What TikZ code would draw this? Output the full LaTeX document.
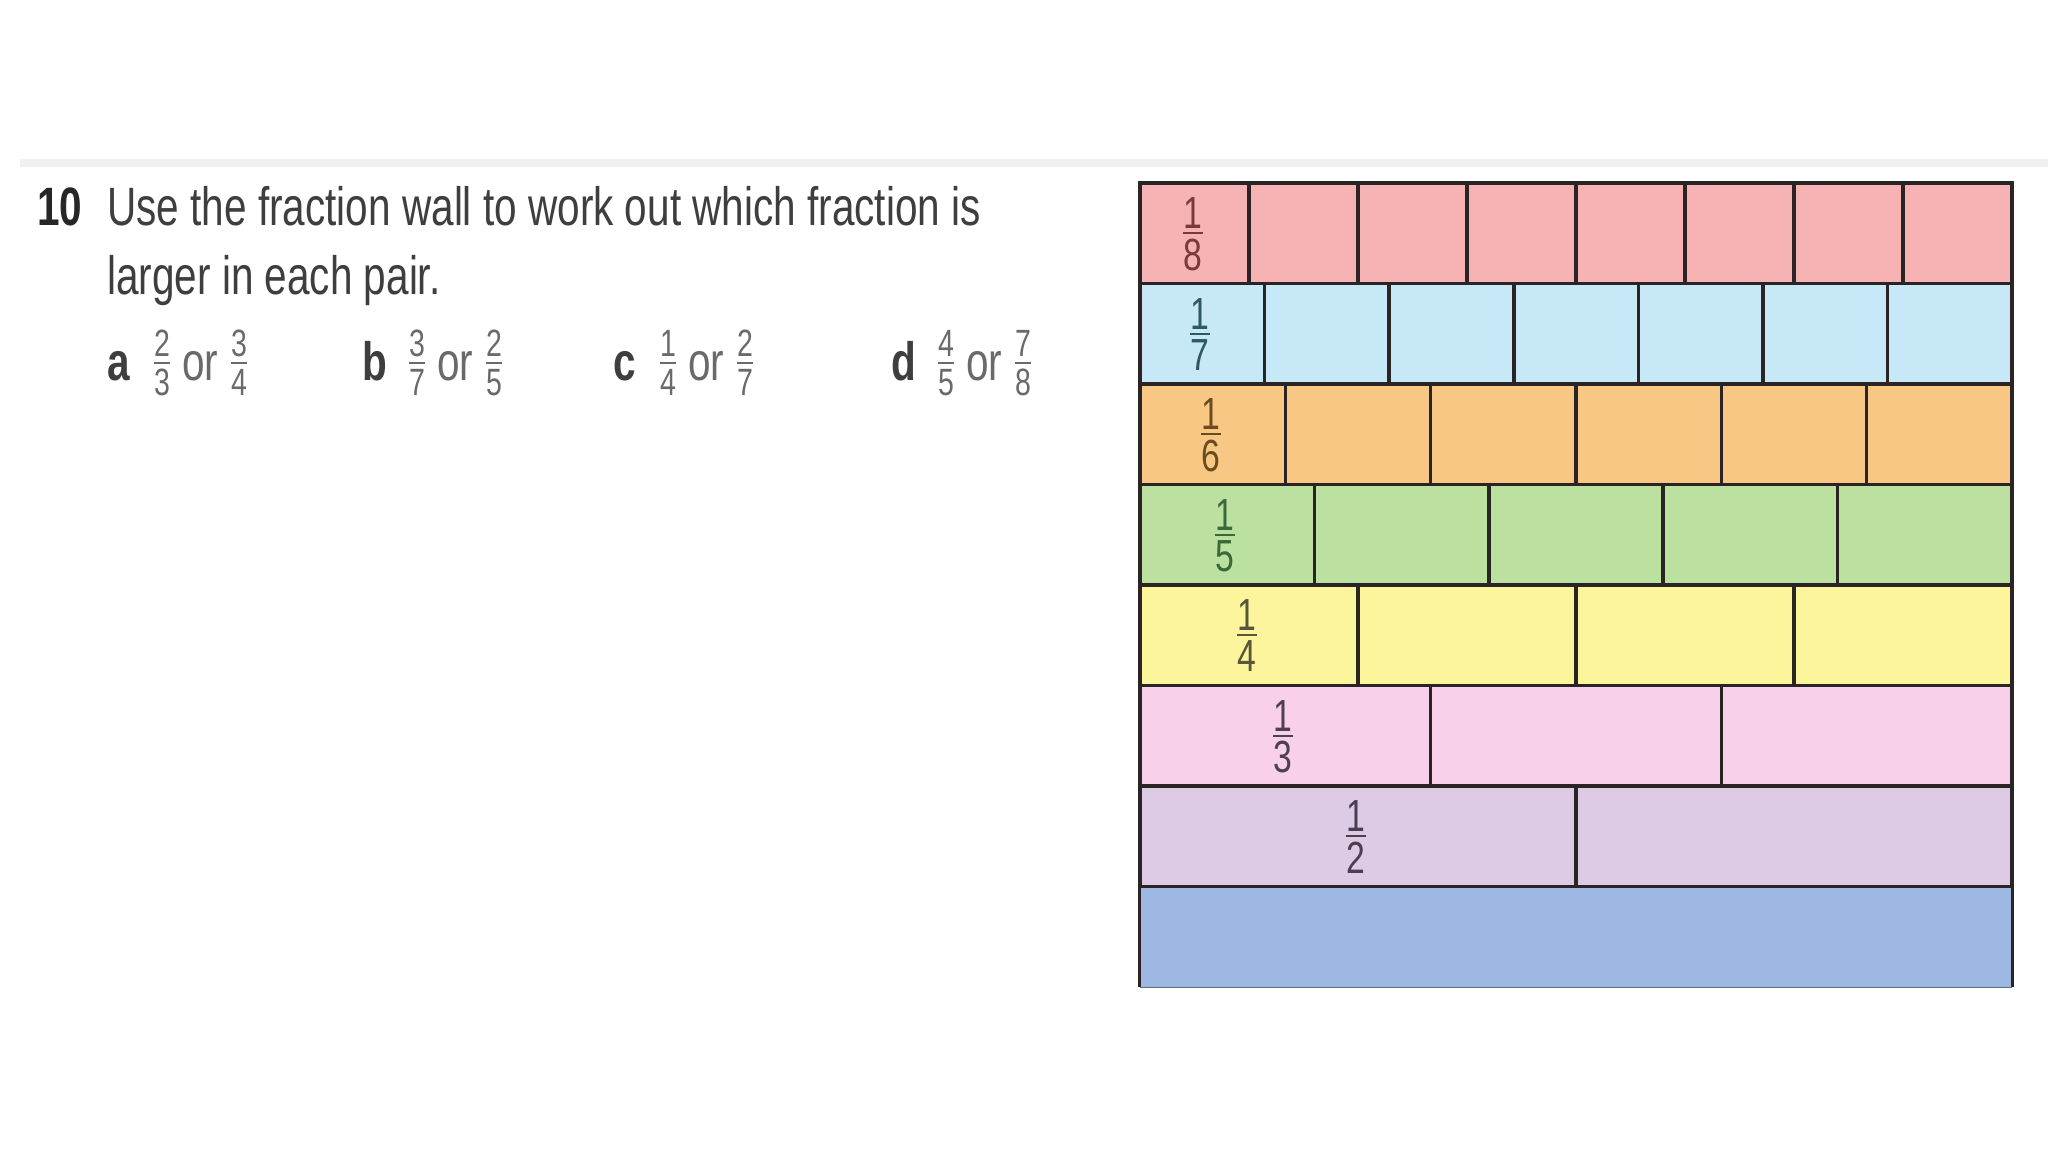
\documentclass[tikz,border=0pt]{standalone}
\usepackage{fontspec}
\setmainfont{Liberation Sans}[FakeStretch=0.75]
\definecolor{c8}{HTML}{F7B3B3}
\definecolor{c7}{HTML}{C6E8F7}
\definecolor{c6}{HTML}{F8C784}
\definecolor{c5}{HTML}{BCE09F}
\definecolor{c4}{HTML}{FDF59C}
\definecolor{c3}{HTML}{F9D0EA}
\definecolor{c2}{HTML}{DDCBE5}
\definecolor{c1}{HTML}{9DB9E3}
\definecolor{t8}{HTML}{7A3A3A}
\definecolor{t7}{HTML}{2E5866}
\definecolor{t6}{HTML}{6B4C1E}
\definecolor{t5}{HTML}{3A6A3A}
\definecolor{t4}{HTML}{56563A}
\definecolor{t3}{HTML}{4D4050}
\definecolor{t2}{HTML}{4A3F4F}
\definecolor{wallline}{HTML}{2B2424}
\definecolor{maingray}{HTML}{3E3E3E}
\definecolor{lightgray}{HTML}{6A6A6A}
\tikzset{
  cell/.style={draw=wallline, line width=1.8pt, rectangle, inner sep=0pt, minimum height=50.25pt},
  wl/.style={inner sep=0pt, font=\fontsize{22.5}{25}\selectfont},
  maintext/.style={inner sep=0pt, text=maingray, font=\fontsize{27}{30}\selectfont},
  itlet/.style={inner sep=0pt, text=maingray, font=\fontsize{27}{30}\selectfont\bfseries},
  itor/.style={inner sep=0pt, text=lightgray, font=\fontsize{27}{30}\selectfont},
  itfr/.style={inner sep=0pt, text=lightgray, font=\fontsize{19}{21}\selectfont},
  frbar/.style={draw=lightgray, line width=0.9pt},
}
\newcommand\pairq[7]{%
  \node[itlet, anchor=base west] (#1l) at (#2,380) {#3};
  \node[itfr, anchor=south] (#1an) at (#2+55,357) {#4};
  \draw[frbar] (#2+47,363) -- (#2+63,363);
  \node[itfr, anchor=north] (#1ad) at (#2+55,369) {#5};
  \node[itor, anchor=base west] (#1or) at (#2+75,380) {or};
  \node[itfr, anchor=south] (#1bn) at (#2+132,357) {#6};
  \draw[frbar] (#2+124,363) -- (#2+140,363);
  \node[itfr, anchor=north] (#1bd) at (#2+132,369) {#7};
}
\begin{document}
\begin{tikzpicture}[x=0.5pt,y=-0.5pt]
\path[use as bounding box, fill=white] (0,0) rectangle (2048,1152);
% top gray rule
\fill[gray!12] (20,159) rectangle (2048,167);
% question text
\node[maintext, anchor=base west, font=\fontsize{27}{30}\selectfont\bfseries, text=black!85] (qnum) at (37,225) {10};
\node[maintext, anchor=base west] (q1) at (107,225) {Use the fraction wall to work out which fraction is};
\node[maintext, anchor=base west] (q2) at (107,294) {larger in each pair.};
\pairq{a}{107}{a}{2}{3}{3}{4}
\pairq{b}{362}{b}{3}{7}{2}{5}
\pairq{c}{613}{c}{1}{4}{2}{7}
\pairq{d}{891}{d}{4}{5}{7}{8}
% whole row
\node[fill=c1, inner sep=0pt, minimum width=436pt, minimum height=50.25pt] (whole) at (1576,936.75) {};
\draw[wallline, line width=1.8pt] (whole.north west) -- (whole.south west);
\draw[wallline, line width=1.8pt] (whole.north east) -- (whole.south east);
\draw[c1!60!black, line width=0.8pt] (whole.south west) -- (whole.south east);
% fraction rows
\foreach \n/\fc/\lc [count=\i from 0] in {8/c8/t8,7/c7/t7,6/c6/t6,5/c5/t5,4/c4/t4,3/c3/t3,2/c2/t2}{
  \pgfmathsetmacro\w{872/\n}
  \pgfmathsetmacro\yc{233.25+100.5*\i}
  \foreach \k in {1,...,\n}{
    \node[cell, fill=\fc, minimum width=\w*0.5pt] (r\n-\k) at ({1140+\w*(\k-0.5)},\yc) {};
  }
  \pgfmathsetmacro\lx{1140+\w/2-2}
  \node[wl, text=\lc, anchor=south] (num\n) at (\lx,\yc-4) {1};
  \node[wl, text=\lc, anchor=north] (den\n) at (\lx,\yc+5) {\n};
  \draw[draw=\lc, line width=1pt] (\lx-10,\yc) -- (\lx+10,\yc);
}
\end{tikzpicture}
\end{document}
